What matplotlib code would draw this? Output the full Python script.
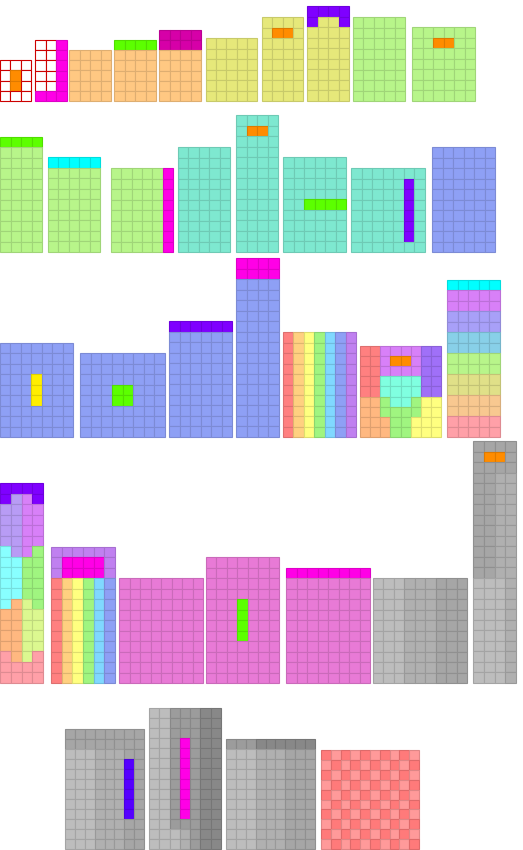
import matplotlib
matplotlib.use("Agg")
import matplotlib.pyplot as plt
from matplotlib.patches import Rectangle
from matplotlib.colors import to_rgb

# colour key for each grid character
PALETTE = {
    'w': '#ffffff', 'O': '#ff8c00', 'M': '#ff00e6', 'p': '#ffc882',
    'G': '#5cff00', 'D': '#d600a8', 'y': '#e6e87a', 'P': '#7f00ff',
    'l': '#b8f58a', 'C': '#00ffff', 'a': '#7ee8d0', 'b': '#8ea0f5',
    'Y': '#ffee00', 'r': '#ff8080', 'o': '#ffd080', 'e': '#ffff80',
    'g': '#a0f580', 's': '#80d8ff', 'v': '#c080f0', 'i': '#d880f8',
    'u': '#a070f8', 'q': '#80ffe0', 'L': '#a8a0f8', 'k': '#88d0e8',
    'h': '#e0e088', 'f': '#f8c890', 'n': '#ffa0a8', 'm': '#b89cf5',
    'c': '#88ffff', 'z': '#dcf890', 'K': '#e87ad6', 'B': '#5500ff',
    '1': '#bdbdbd', '2': '#b0b0b0', '3': '#a6a6a6', '4': '#9c9c9c',
    '5': '#888888', 'R': '#ff7a7a', 'S': '#ff9a9a', 'j': '#ffb880',
}

# block extents: left, top, right, bottom (image pixels)
extents = [
    (0, 60, 31, 101), (35, 40, 67, 101), (69, 50, 111, 101), (114, 40, 156, 101),
    (159, 30, 201, 101), (206, 38, 257, 101), (262, 17, 303, 101), (307, 6, 349, 101),
    (353, 17, 405, 101), (412, 27, 475, 101),
    (0, 137, 42, 252), (48, 157, 100, 252), (111, 168, 173, 252), (178, 147, 230, 252),
    (236, 115, 278, 252), (283, 157, 346, 252), (351, 168, 425, 252), (432, 147, 495, 252),
    (0, 343, 73, 437), (80, 353, 165, 437), (169, 321, 232, 437), (236, 258, 279, 437),
    (283, 332, 356, 437), (360, 346, 441, 437), (447, 280, 500, 437),
    (0, 483, 43, 683), (51, 547, 115, 683), (119, 578, 203, 683), (206, 557, 279, 683),
    (286, 568, 370, 683), (373, 578, 467, 683), (473, 441, 516, 683),
    (65, 729, 144, 849), (149, 708, 221, 849), (226, 739, 315, 849), (321, 750, 419, 849),
]

grids = [
    ["www", "wOw", "wOw", "www"],
    ["wwM"] * 5 + ["MMM"],
    ["pppp"] * 5,
    ["GGGG"] + ["pppp"] * 5,
    ["DDDD"] * 2 + ["pppp"] * 5,
    ["yyyyy"] * 6,
    ["yyyy", "yOOy"] + ["yyyy"] * 6,
    ["PPPP", "PyyP"] + ["yyyy"] * 7,
    ["lllll"] * 8,
    ["llllll", "llOOll"] + ["llllll"] * 5,
    ["GGGG"] + ["llll"] * 10,
    ["CCCCC"] + ["lllll"] * 8,
    ["lllllM"] * 8,
    ["aaaaa"] * 10,
    ["aaaa", "aOOa"] + ["aaaa"] * 11,
    ["aaaaaa"] * 4 + ["aaGGGG"] + ["aaaaaa"] * 4,
    ["aaaaaaa"] + ["aaaaaPa"] * 6 + ["aaaaaaa"],
    ["bbbbbb"] * 10,
    ["bbbbbbb"] * 3 + ["bbbYbbb"] * 3 + ["bbbbbbb"] * 3,
    ["bbbbbbbb"] * 3 + ["bbbGGbbb"] * 2 + ["bbbbbbbb"] * 3,
    ["PPPPPP"] + ["bbbbbb"] * 10,
    ["MMMM"] * 2 + ["bbbb"] * 15,
    ["roegsbv"] * 10,
    ["rriiiiuu", "rriOOiuu", "rriiiiuu", "rrqqqquu", "rrqqqquu",
     "jjgqqgee", "jjggggee", "jjjggeee", "jjjggeee"],
    ["CCCCC"] + ["iiiii"] * 2 + ["LLLLL"] * 2 + ["kkkkk"] * 2 + ["lllll"] * 2
    + ["hhhhh"] * 2 + ["fffff"] * 2 + ["nnnnn"] * 2,
    ["PPPP", "PmiP"] + ["mmii"] * 4 + ["cmig"] + ["ccgg"] * 4 + ["cjzg"]
    + ["jjzz"] * 4 + ["njzn"] + ["nnnn"] * 2,
    ["vvvvvv"] + ["vMMMMv"] * 2 + ["roegsb"] * 10,
    ["KKKKKKKK"] * 10,
    ["KKKKKKK"] * 4 + ["KKKGKKK"] * 4 + ["KKKKKKK"] * 4,
    ["MMMMMMMM"] + ["KKKKKKKK"] * 10,
    ["111222333"] * 10,
    ["3333", "3OO3", "3333"] + ["3322"] * 10 + ["1112"] * 10,
    ["33333333"] * 2 + ["11122233"] + ["111222B3"] * 6 + ["11122233"] * 3,
    ["1144455"] * 3 + ["114M455"] * 8 + ["1144455"] + ["1112455"] * 2,
    ["444555555"] + ["111222333"] * 10,
    ["RSRSRSRSRS", "SRSRSRSRSR"] * 5,
]


def edge_of(ch):
    if ch == 'w':
        return '#cc0000'
    r, g, b = to_rgb(PALETTE[ch])
    return (r * 0.87, g * 0.87, b * 0.87)


fig = plt.figure(figsize=(5.23, 8.5), dpi=100)
ax = fig.add_axes([0, 0, 1, 1])
ax.set_xlim(0, 523)
ax.set_ylim(850, 0)
ax.axis('off')

for (x0, y0, x1, y1), grid in zip(extents, grids):
    nrows, ncols = len(grid), len(grid[0])
    cw = (x1 - x0) / ncols
    ch = (y1 - y0) / nrows
    for i, row in enumerate(grid):
        for j, c in enumerate(row):
            ax.add_patch(Rectangle((x0 + j * cw, y0 + i * ch), cw, ch,
                                   facecolor=PALETTE[c], edgecolor=edge_of(c),
                                   linewidth=0.8))

fig.savefig("out.png", dpi=100, facecolor='white')
